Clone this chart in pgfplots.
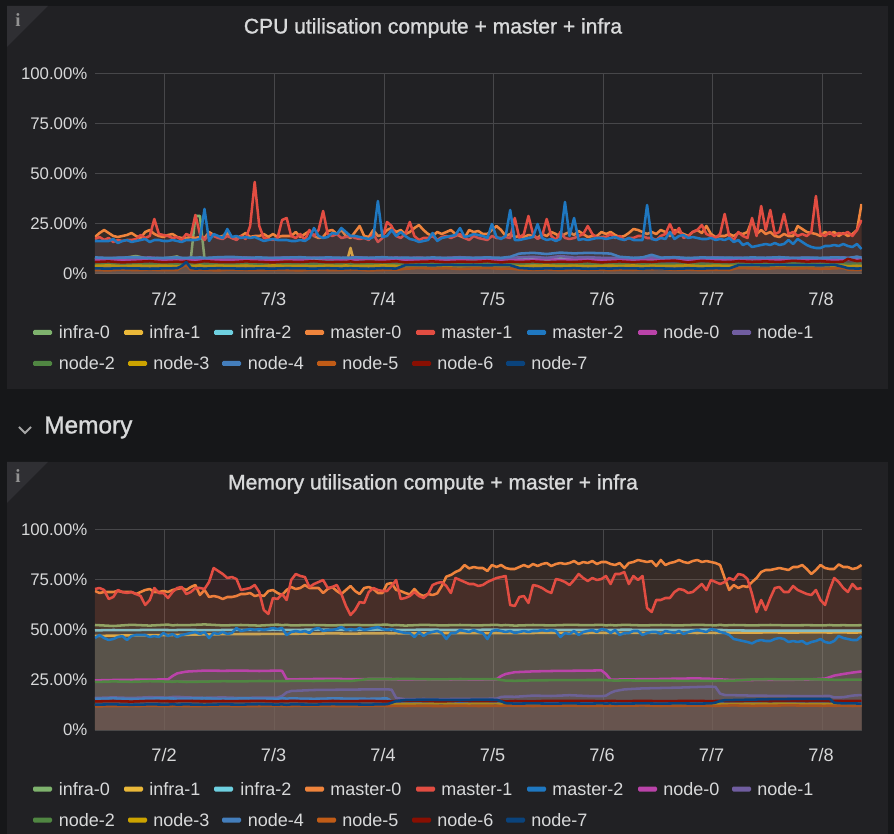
\documentclass[border=0pt]{standalone}
\usepackage{fontspec}
\usepackage{pgfplots}
\usepackage{pgfplotstable}
\pgfplotsset{compat=1.18}
\setmainfont{Liberation Sans}
\newfontfamily\titlefont[FakeBold=1.2]{Liberation Sans}
\newfontfamily\infofont{Liberation Serif}

\definecolor{page}{HTML}{161719}
\definecolor{panel}{HTML}{212124}
\definecolor{corner}{HTML}{2F2F33}
\definecolor{gridc}{HTML}{47474A}
\definecolor{txt}{HTML}{D8D9DA}
\definecolor{infra0}{HTML}{7EB26D}
\definecolor{infra1}{HTML}{EAB839}
\definecolor{infra2}{HTML}{6ED0E0}
\definecolor{master0}{HTML}{EF843C}
\definecolor{master1}{HTML}{E24D42}
\definecolor{master2}{HTML}{1F78C1}
\definecolor{node0}{HTML}{BA43A9}
\definecolor{node1}{HTML}{705DA0}
\definecolor{node2}{HTML}{508642}
\definecolor{node3}{HTML}{CCA300}
\definecolor{node4}{HTML}{447EBC}
\definecolor{node5}{HTML}{C15C17}
\definecolor{node6}{HTML}{890F02}
\definecolor{node7}{HTML}{0A437C}

% hours since the start of the window, value in percent
\pgfplotstableread{
h m0 m1 m2
0 18.5 17.5 16.5
1 20.5 18.5 16.5
2 22 17 16.5
3 20.5 18 16.5
4 19 16 17.5
5 18.5 17 15.5
6 19 16.5 16.5
7 19.5 17 17
8 20.5 17 16
9 19 17.5 16.5
10 18 19.5 17
11 21 18 17.5
12 22 19 16
13 20 27.5 17
14 19 20 17
15 18.5 19.5 16.5
16 19.5 19 16.5
17 20 18 17
18 18.5 18.5 16.5
19 18 17 16
20 18 20 17
21 18.5 19 17
22 18 29.5 17
23 18.5 20 17.5
24 18 17 32.5
25 21 20 16.5
26 19.5 19 20
27 18.5 18 19
28 19 17.5 18
29 20.5 19 22.5
30 18 18 18.5
31 18 17 19
32 19 19 18
33 20.5 17.5 18.5
34 18.5 24 18
35 19 46 18.5
36 19 24 17.5
37 20 18 16.5
38 18.5 17.5 17
39 20 17 17.5
40 18.5 18 17
41 19 27 17
42 19 28 17
43 19 19 16.5
44 21 18 16.5
45 18.5 20 17
46 20 17 16.5
47 21.5 22 18
48 19 19 23
49 18 22 19
50 18.5 31.5 18
51 21.5 20 18.5
52 22 19 20.5
53 20 20 20
54 22 18 23
55 19 18.5 21
56 18 19 19
57 21 18 19
58 24 17.5 18.5
59 19 18 18
60 18.5 17 17.5
61 22 20 18.5
62 19 16 36.5
63 19.5 18 18.5
64 22 26 19
65 23 24 22
66 21 19 19
67 22 18 21
68 20 20 19
69 21 26 17.5
70 23 19 17
71 24.5 17 16
72 22 18 16.5
73 20 18 17
74 19 19 20.5
75 21 17 16.5
76 20 18.5 18
77 21 19 18.5
78 22 18 19
79 20 19 19.5
80 19 20 23
81 18 18 18.5
82 22 17 19
83 21 19 20
84 21.5 18 19.5
85 20 17.5 19
86 20 17 18
87 22 19 25
88 24 18 18.5
89 22 18 17.5
90 19 18.5 19
91 20 18 32
92 18.5 28 17
93 19 18 17
94 18.5 20 17.5
95 19.5 29 18
96 19 20 18.5
97 18 17.5 25
98 20 19 18
99 19 27.5 17
100 21 19 17.5
101 20 17 16.5
102 18.5 21 17.5
103 20 18 36
104 21 17.5 19
105 19.5 18 28
106 21.5 19 17
107 20 20 17.5
108 18.5 24 17
109 19 20 17.5
110 19 18 18
111 21 18.5 18
112 20 18.5 17.5
113 21 20 18
114 19.5 18 18.5
115 18.5 19 17.5
116 19 17 17
117 20.5 18 18
118 22.5 18 17
119 22 19 17
120 21 19 17
121 20 18 34.5
122 21 18 17.5
123 20 17 17
124 22 19 18
125 21 20 17.5
126 19 25 21
127 22 20 17.5
128 21 23 19
129 20 18 19.5
130 19 19 18
131 21 21 18.5
132 22 22 18
133 20.5 24.5 17.5
134 24 20 17.5
135 20 19 18
136 18.5 18 17
137 19 20 17.5
138 19 30 17
139 20 19 18
140 19 17 16
141 20.5 21 17
142 20 19 14.5
143 21 18 15.5
144 27 28 13.5
145 20 19 14
146 22 34 14.5
147 20 22 15
148 21 32 14.5
149 19 20 15.5
150 18.5 21 14.5
151 20 30 15
152 19 20 17
153 19 21 15
154 24 19 17.5
155 22.5 20 16
156 21 19 14.5
157 20.5 21 13.5
158 20 39 13
159 19 20 13
160 21 19 14
161 20 21 14
162 21 19 14.5
163 19 20.5 14
164 20.5 20 15
165 19 21 14
166 20 19 13.5
167 22 22 15
168 35 27 12.5
}\cpumasters

\pgfplotstableread{
h i0 i1 i2 n0 n1 n2 n3 n4 n5 n6 n7
0 7.5 4.2 7.6 7.2 8.1 5.2 4.1 8.3 2.0 6.0 2.8
3 7.2 3.9 7.8 6.8 7.9 5.0 4.3 8.0 1.8 6.3 2.7
6 7.9 4.1 7.4 7.1 8.2 5.3 3.9 8.2 2.2 5.8 2.9
9 9.0 4.0 7.5 6.9 8.0 4.9 4.2 8.4 1.9 6.1 2.8
12 7.4 4.3 7.9 7.3 8.3 5.1 4.0 7.9 2.1 6.4 2.6
15 7.6 3.8 7.3 7.0 7.8 5.4 4.2 8.1 1.9 5.9 2.8
18 8.8 4.0 7.6 6.7 8.1 5.0 3.9 8.3 2.0 6.2 2.9
19 7.5 4.1 7.7 7.1 8.0 5.2 4.1 8.1 3.5 6.0 4.0
20 7.3 4.2 7.5 7.2 7.9 5.1 4.2 8.0 4.5 6.3 6.0
21 7.6 3.9 7.8 6.9 8.2 4.9 4.0 8.2 2.0 6.0 3.0
22 29 4.0 7.4 7.0 8.0 5.3 4.1 8.1 1.9 5.8 2.7
23 29 4.1 7.7 7.3 8.1 5.0 4.3 8.3 2.1 6.1 2.8
24 7.8 4.0 7.5 6.8 7.9 5.2 3.9 8.0 2.0 6.4 2.7
27 7.4 4.2 8.0 7.2 8.2 5.1 4.2 8.4 1.8 6.0 2.9
30 7.6 3.9 7.3 7.0 8.0 4.8 4.0 8.6 2.2 5.9 2.8
33 7.3 4.3 7.8 7.4 8.3 5.3 4.2 8.1 2.0 6.3 2.6
36 7.7 4.0 7.6 6.9 7.8 5.0 3.8 8.3 1.9 6.1 2.8
39 7.5 4.1 7.2 7.1 8.1 5.2 4.3 8.0 2.1 5.8 2.7
42 7.2 3.8 7.7 7.5 8.3 4.9 4.0 8.2 2.0 6.2 2.9
45 7.8 4.2 7.5 7.0 7.9 5.4 4.1 8.4 1.8 6.0 2.8
48 7.4 4.0 7.9 8.0 8.2 5.1 3.9 8.0 2.2 6.4 2.7
51 7.6 4.3 7.4 7.6 8.0 5.0 4.2 8.3 2.0 5.9 2.9
54 7.5 4.0 7.6 7.2 8.1 5.2 4.0 8.1 1.9 6.1 2.7
55 7.3 4.5 7.8 7.4 7.9 4.9 4.3 8.2 2.1 6.0 2.8
56 7.7 13 7.5 7.0 8.2 5.3 3.9 8.0 2.0 6.3 2.9
57 7.4 4.2 7.3 7.3 8.4 5.1 4.1 8.3 2.2 5.9 2.8
60 7.6 3.9 7.7 7.6 8.1 5.0 4.0 8.1 1.8 6.2 2.6
63 7.3 4.1 7.9 7.1 7.8 5.2 4.3 8.4 2.0 6.0 2.9
66 7.8 4.3 7.4 7.4 8.3 4.8 4.1 8.0 2.1 6.4 2.7
68 7.5 4.0 7.6 7.0 8.0 5.1 3.9 8.2 2.6 5.8 4.4
71 7.2 4.2 8.1 7.2 8.2 5.3 4.2 7.9 3.0 6.1 4.5
74 7.7 3.9 7.5 6.9 7.9 5.0 4.0 8.3 2.7 6.3 4.3
77 7.4 4.1 7.3 7.3 8.1 5.4 4.2 8.0 2.9 5.9 4.6
80 7.6 4.3 7.8 7.1 8.4 5.1 3.8 8.2 2.5 6.2 4.4
83 7.3 4.0 7.6 7.5 8.0 4.9 4.3 8.1 2.8 6.0 4.5
86 7.9 4.2 7.4 7.0 8.2 5.2 4.1 8.3 3.0 6.4 4.3
89 7.5 3.9 7.7 7.2 7.8 5.0 4.0 8.1 2.6 5.8 4.5
91 8.0 4.1 7.9 7.4 8.1 5.3 4.2 8.6 2.7 6.2 4.4
93 7.2 4.0 7.3 6.8 8.3 5.1 3.9 10.2 2.2 6.0 3.0
96 8.4 4.3 7.6 7.1 8.6 5.5 4.1 10.6 2.0 6.3 2.6
99 7.1 4.0 8.0 7.5 8.0 4.8 4.3 10.0 2.3 5.9 2.8
102 7.8 4.2 7.4 7.0 9.0 5.2 4.0 10.7 1.9 6.2 2.7
105 7.4 3.9 7.7 7.3 8.2 5.0 4.2 10.3 2.1 6.0 2.9
108 8.2 4.1 7.5 7.2 8.4 5.3 3.9 10.6 2.0 6.4 2.6
111 7.5 4.0 7.8 6.9 8.1 5.1 4.1 10.4 2.2 5.8 2.8
113 7.3 4.2 7.4 7.4 8.0 5.4 4.2 10.2 1.9 6.1 2.7
115 7.7 4.3 7.6 7.0 8.2 4.9 4.0 8.6 2.1 6.3 2.9
118 7.4 3.9 7.3 7.3 7.9 5.2 4.3 8.1 2.0 5.9 2.8
120 7.6 4.1 7.8 7.1 8.1 5.0 3.9 8.3 2.4 6.2 2.7
122 7.3 4.0 7.5 7.5 8.3 5.3 4.2 9.6 2.3 6.0 2.9
124 7.9 4.2 7.7 7.0 8.0 5.1 4.0 8.2 2.6 6.4 2.8
127 7.5 3.9 7.4 7.2 8.2 4.8 4.1 8.4 2.0 6.7 2.6
130 7.2 4.3 7.9 6.9 7.8 5.4 4.3 8.0 2.2 5.8 2.8
133 7.7 4.0 7.6 7.4 8.1 5.1 3.9 8.3 1.9 6.6 2.7
136 7.4 4.2 7.3 7.1 8.3 5.0 4.2 8.1 2.1 6.2 2.9
139 8.0 4.1 7.7 7.3 8.0 5.3 4.0 8.2 2.0 6.0 2.8
141 7.5 4.3 7.5 7.0 8.2 5.2 4.1 8.0 3.0 6.4 4.4
144 7.3 3.9 7.8 7.5 7.9 4.9 4.3 8.3 2.8 6.1 4.5
147 7.6 4.1 7.4 7.2 8.1 5.2 4.0 8.1 2.6 6.3 4.3
150 7.4 4.0 7.6 6.9 8.4 5.0 4.2 8.4 3.0 6.0 4.6
153 7.7 4.2 7.9 7.3 8.0 5.3 3.9 8.0 2.7 6.6 4.4
156 7.3 4.3 7.5 7.1 8.2 5.1 4.1 8.2 2.9 6.2 4.5
159 7.5 3.9 7.3 7.4 7.8 4.9 4.3 8.1 2.6 6.4 4.3
162 7.8 4.1 7.7 7.0 8.1 5.2 4.0 8.3 2.8 6.0 4.6
164 7.4 4.2 7.6 7.2 8.3 5.4 4.2 8.2 3.0 6.2 3.6
165 7.6 4.0 7.4 7.3 8.0 5.0 3.9 8.0 2.2 7.6 2.9
167 8.6 4.3 7.8 7.1 8.5 5.3 4.1 8.6 2.0 6.4 2.7
168 7.4 4.1 7.5 7.3 8.2 5.1 4.0 8.3 2.1 6.8 2.8
}\cpunodes

\pgfplotstableread{
h m0 m1 m2
0 69.5 70.5 46
1 68.5 71 47.5
2 69 70 46
3 69 65.5 45
4 69 66.5 45.5
5 69.5 70 46.5
6 69 69 47
7 69 68.5 45
8 69 69 47
9 68 68 47.5
10 69 67 47.5
11 70 62.5 47.5
12 70.5 65 46.5
13 69 71 47
14 69 68.5 46.5
15 69.5 68.5 48.5
16 69 66 47
17 70 69 48
18 70.5 71 46.5
19 71 71.5 47.5
20 70 68 48
21 71.5 69 48.5
22 72.5 71 49
23 67.5 71 48
24 70 70.5 49
25 66.5 74 46
26 67 81 48.5
27 66.5 79.5 48
28 65.5 78 49
29 66.5 76 48
30 66.5 76.5 48.5
31 67 75.5 51
32 68 70 49.5
33 68 70.5 50
34 68.5 71 50.5
35 67 72.5 50
36 67.5 69 50.5
37 67 60 50
38 69.5 58 50.5
39 70 66 51
40 68.5 65.5 50.5
41 67.5 68 51
42 70 65 47.5
43 71.5 75 49
44 70.5 78 49.5
45 71 77 49
46 72.5 76.5 49.5
47 71 71.5 48.5
48 71 73 50.5
49 71 74 51
50 68.5 75 49.5
51 70.5 71 50
52 71.5 71.5 50
53 69.5 72.5 50.5
54 68 68 51.5
55 70 62 50
56 72 57.5 50.5
57 69.5 60 50
58 68 64 51
59 71 63.5 50
60 71.5 69 50.5
61 70.5 71 51
62 68.5 70 51.5
63 68.5 69.5 50.5
64 73 69.5 50
65 73.5 72 50.5
66 70 75 49.5
67 69.5 65.5 49
68 68.5 66 48.5
69 67.8 67 48.5
70 70.5 69 46.5
71 68 67 49
72 67 66 47
73 68 68 48.5
74 67.5 72.5 49
75 68.3 73.5 49.5
76 72 74 48.5
77 76.7 72 45.5
78 77.5 68.5 48.5
79 79 76 48.5
80 80 75 50
81 82.5 74 49.5
82 80.8 73 49
83 81.5 73 50
84 81 72 49
85 81 72.5 48.5
86 79.5 74 45.5
87 82.5 75 49.5
88 81.5 76 50
89 82.5 76.5 49.5
90 81 77 49
91 80.5 62.5 49.5
92 80.5 62 48.5
93 81.5 66.5 49
94 82.5 67 49.5
95 81.5 63.5 49
96 83 72.5 49.5
97 82 72 49.5
98 83 71 50
99 83.5 69.5 49.5
100 82 68.5 50
101 83 75.5 49.5
102 83.5 75 46.5
103 83 74 48.5
104 83.5 72.5 48
105 84.5 75 49.5
106 83 78 47.5
107 84 76 49
108 83.5 74.5 49.5
109 84.5 76 50
110 83 75 49
111 84 75.5 50.5
112 84 77 50
113 83 73 48.5
114 82.5 78 50
115 83.5 78 47.5
116 81 79 48.5
117 83.5 73 48.5
118 84 77 49.5
119 85 75 49.5
120 84.5 77 47.5
121 84 61 48.5
122 84.5 59 49
123 82 65 49
124 85 65 48
125 82.5 66 49.5
126 83.5 66 49
127 84 69 48.5
128 85 70.5 49.5
129 84 70 48
130 83.5 68.5 49
131 84.5 69 49.5
132 85 71 50
133 84 73 49.5
134 84.5 70 49
135 84 75 50.5
136 83.5 74 50
137 82.5 73 49
138 76 74 48.5
139 70 76 47.5
140 72.5 75 45.5
141 71 78 45
142 72 77.5 44.5
143 71.5 75.5 44
144 74 68 43.3
145 76 59 44.5
146 79 65 45
147 80 60 44.5
148 80 66 44.5
149 80.5 71 45.5
150 81 71.5 46
151 80.5 69 45.5
152 80 69 44
153 81.5 72 44.5
154 81.5 70 44
155 82.5 69 44.5
156 80.5 68 43
157 78 67.5 44
158 80 70 44.5
159 82.5 65 45.5
160 81 62.5 44
161 80.5 70 43.5
162 80.5 76 44.5
163 82.8 74 47
164 81.5 71 46
165 81.5 69 45.5
166 80.5 73 45
167 81 70.5 45
168 82.5 71 47
}\memmasters

\pgfplotstableread{
h i0 i1 i2 n0 n1 n2 n3 n4 n5 n6 n7
0 52.5 47.0 49.8 24.8 16.0 24.0 12.4 15.6 11.8 14.3 12.7
4 52.0 47.2 50.0 25.0 16.3 24.3 12.5 15.8 12.0 14.5 12.8
8 52.6 47.3 49.9 25.1 16.0 24.1 12.3 15.5 11.9 14.2 12.6
12 52.2 47.4 50.1 25.2 16.4 24.4 12.5 15.7 12.1 14.6 12.8
16 52.7 47.5 50.0 25.3 16.2 24.2 12.4 15.9 11.9 14.4 12.7
17 52.3 47.5 49.9 27.0 16.5 24.1 12.6 15.8 12.0 14.3 12.9
18 52.5 47.6 50.0 28.3 16.6 24.3 12.5 15.6 12.1 14.5 12.7
20 52.4 47.6 50.1 29.2 16.3 24.0 12.4 15.7 11.9 14.6 12.8
24 52.8 47.8 49.9 29.7 16.1 24.2 12.5 15.9 12.0 14.3 12.6
28 52.3 47.9 50.0 29.6 16.3 24.4 12.3 15.5 12.1 14.5 12.8
32 52.5 48.0 50.1 29.7 16.0 24.3 12.6 15.8 11.9 14.4 12.7
36 52.2 48.0 50.0 29.5 16.2 24.5 12.5 15.7 12.0 14.6 12.9
40 52.7 48.1 50.2 29.7 16.2 24.4 12.4 15.6 12.1 14.3 12.7
41 52.4 48.1 50.0 29.6 17.0 24.5 12.5 15.9 12.0 14.5 12.8
42 52.6 48.0 50.1 25.4 18.8 24.4 12.6 15.7 11.9 14.4 12.6
43 52.3 48.1 50.0 25.3 19.5 24.6 12.4 15.8 12.0 14.6 12.8
48 52.5 48.2 50.2 25.5 20.0 24.5 12.5 15.6 12.1 14.3 12.7
52 52.3 48.3 50.1 25.6 20.1 24.7 12.6 15.8 12.0 14.5 12.9
56 52.6 48.2 50.0 25.4 20.2 24.5 12.5 15.7 11.9 14.4 12.8
60 52.4 48.3 50.1 25.5 20.3 25.5 12.4 15.6 12.1 14.6 12.7
64 52.7 48.4 50.2 25.6 20.3 25.6 12.6 15.8 12.0 14.3 12.9
65 52.3 48.3 50.0 25.5 20.2 25.4 12.8 14.5 12.0 14.5 13.6
66 52.5 48.4 50.1 25.4 16.0 25.5 13.0 14.2 12.1 14.4 14.5
68 52.2 48.3 50.0 25.3 15.4 25.6 13.2 14.4 12.0 14.6 15.0
72 52.6 48.4 50.2 25.3 15.5 25.4 13.3 14.3 12.1 14.5 15.2
76 52.3 48.5 50.1 25.2 15.4 25.3 13.4 14.6 11.9 14.3 15.1
80 52.5 48.5 50.0 25.3 15.6 25.5 13.2 14.2 12.2 14.6 15.0
84 52.3 48.4 50.1 25.2 15.5 25.4 13.3 14.5 12.0 14.4 15.2
88 52.6 48.5 50.2 25.4 15.7 25.5 13.4 14.3 12.1 14.5 15.1
89 52.3 48.4 50.0 27.0 16.5 25.0 13.1 14.4 12.1 14.6 14.4
90 52.5 48.5 50.1 28.0 16.7 24.7 13.0 14.2 12.2 14.3 13.4
92 52.2 48.4 50.0 28.9 16.6 24.6 13.0 14.3 12.1 14.5 13.2
96 52.5 48.5 50.1 29.3 17.2 24.8 12.8 14.4 12.0 14.4 13.3
100 52.3 48.6 50.0 29.5 17.0 24.9 12.9 14.2 12.1 14.6 13.2
104 52.6 48.5 50.1 29.6 17.4 24.9 13.0 14.3 12.2 14.5 13.3
108 52.4 48.5 50.0 29.7 17.0 25.0 12.9 14.1 12.0 14.6 13.2
111 52.6 48.6 50.1 29.8 16.9 25.0 12.8 14.3 12.1 14.4 13.3
112 52.3 48.5 50.0 28.0 17.2 24.9 12.9 14.2 12.1 14.5 13.2
113 52.5 48.6 50.1 25.2 18.6 24.8 13.0 14.4 12.0 14.6 13.3
114 52.3 48.5 50.0 25.2 19.5 24.7 12.8 14.2 12.2 14.5 13.1
116 52.6 48.5 50.2 25.3 20.3 24.8 12.9 14.3 12.1 14.4 13.2
120 52.3 48.6 50.0 25.4 20.8 24.7 12.9 14.1 12.3 14.6 13.3
124 52.5 48.5 50.1 25.5 21.0 24.7 13.0 14.3 12.0 14.4 13.2
128 52.3 48.6 50.0 25.7 21.2 24.6 12.8 14.2 12.1 14.5 13.3
132 52.6 48.5 50.1 25.8 21.5 24.6 12.9 14.4 12.2 14.6 13.2
135 52.4 48.6 50.2 25.6 21.7 24.5 12.9 14.2 12.1 14.4 13.3
136 52.3 48.5 50.0 25.4 21.5 24.6 13.0 14.3 12.0 14.5 13.7
137 52.6 48.6 50.1 25.3 18.2 24.7 13.1 14.4 12.1 14.6 14.5
138 52.3 48.6 49.9 25.2 17.5 24.6 13.0 14.3 12.2 14.5 14.9
140 52.5 48.7 49.8 25.0 17.4 24.7 13.2 14.5 12.3 14.4 15.0
144 52.3 48.7 49.7 25.0 17.2 25.3 13.2 14.4 12.1 14.6 15.2
148 52.5 48.8 49.7 25.1 17.1 25.4 13.1 14.6 12.2 14.5 15.4
152 52.3 48.7 49.7 25.1 17.0 25.3 13.2 14.5 12.3 14.6 15.5
156 52.4 48.8 49.7 25.2 16.9 25.4 13.0 14.4 12.2 14.5 15.6
160 52.3 48.8 49.7 25.7 17.0 25.3 13.1 14.5 12.1 14.6 15.6
161 52.5 48.7 49.7 26.4 17.0 25.2 13.0 14.6 12.2 14.5 15.6
162 52.3 48.8 49.7 27.2 16.3 25.1 12.9 14.4 12.1 14.6 13.6
164 52.4 48.8 49.7 28.0 16.4 25.1 13.0 14.5 12.2 14.5 13.3
166 52.3 48.7 49.7 28.7 17.2 25.2 12.9 14.4 12.0 14.6 13.3
168 52.4 48.8 49.7 29.3 17.5 25.2 13.0 14.5 12.1 14.6 13.2
}\memnodes

% translucent area under a series, then its line
\newcommand{\series}[3]{%
  \addplot[draw=none, fill=#1, fill opacity=0.1, forget plot] table[x=h, y=#3] {#2} \closedcycle;
  \addplot[#1, line width=1.9pt, line join=round, forget plot] table[x=h, y=#3] {#2};
}

\pgfplotsset{
  panelaxis/.style={
    scale only axis,
    width=575.25pt, height=150pt,
    anchor=south west,
    xmin=0, xmax=168.1,
    ymin=0, ymax=100,
    xtick={15.34,39.34,63.34,87.34,111.34,135.34,159.34},
    xticklabels={7/2,7/3,7/4,7/5,7/6,7/7,7/8},
    ytick={0,25,50,75,100},
    yticklabels={0\%,25.00\%,50.00\%,75.00\%,100.00\%},
    grid=major,
    grid style={gridc, line width=0.75pt},
    major tick length=0pt,
    axis line style={draw=none},
    tick label style={txt, font=\fontsize{12.6}{15}\selectfont},
    xticklabel style={yshift=-10pt, xshift=-0.7pt, font=\fontsize{13.6}{16}\selectfont},
    yticklabel style={xshift=-2.2pt},
  },
}

% legend swatch and name, x of swatch and of text, y in reference pixels
\newcommand{\legitem}[5]{%
  \fill[#4, rounded corners=1pt] (#1,#3-2.5) rectangle (#1+19,#3+2.5);
  \node[anchor=west, inner sep=0pt, txt, font=\fontsize{13.5}{16}\selectfont] at (#2,#3) {#5};
}
\newcommand{\legendrows}[2]{%
  \legitem{33}{58.5}{#1}{infra0}{infra-0}
  \legitem{124}{149}{#1}{infra1}{infra-1}
  \legitem{214}{240}{#1}{infra2}{infra-2}
  \legitem{305}{330}{#1}{master0}{master-0}
  \legitem{416}{441}{#1}{master1}{master-1}
  \legitem{527}{552}{#1}{master2}{master-2}
  \legitem{638}{663}{#1}{node0}{node-0}
  \legitem{732}{757}{#1}{node1}{node-1}
  \legitem{33}{58.5}{#2}{node2}{node-2}
  \legitem{128}{153}{#2}{node3}{node-3}
  \legitem{222}{247.5}{#2}{node4}{node-4}
  \legitem{317}{342}{#2}{node5}{node-5}
  \legitem{412}{437}{#2}{node6}{node-6}
  \legitem{506}{531}{#2}{node7}{node-7}
}
\newcommand{\infocorner}[1]{%
  \fill[corner] (7,#1) -- (48,#1) -- (7,#1+41) -- cycle;
  \node[text=gray!85, font=\infofont\bfseries\fontsize{14}{14}\selectfont, inner sep=0pt] at (18,#1+14) {i};
}
\newcommand{\allseries}[2]{%
  \series{infra0}{#2}{i0}
  \series{infra1}{#2}{i1}
  \series{infra2}{#2}{i2}
  \series{master0}{#1}{m0}
  \series{master1}{#1}{m1}
  \series{master2}{#1}{m2}
  \series{node0}{#2}{n0}
  \series{node1}{#2}{n1}
  \series{node2}{#2}{n2}
  \series{node3}{#2}{n3}
  \series{node4}{#2}{n4}
  \series{node5}{#2}{n5}
  \series{node6}{#2}{n6}
  \series{node7}{#2}{n7}
}

\begin{document}
\begin{tikzpicture}
\begin{scope}[x=0.75pt, y=-0.75pt]
  \fill[page] (0,0) rectangle (894,834);
  \fill[panel] (7,6) rectangle (888,389);
  \fill[panel] (7,462) rectangle (888,834);
  \infocorner{6}
  \infocorner{462}
  \node[txt, font=\titlefont\fontsize{15.8}{19}\selectfont, inner sep=0pt] at (433,28) {CPU utilisation compute + master + infra};
  \node[txt, font=\titlefont\fontsize{15.8}{19}\selectfont, inner sep=0pt] at (433,484) {Memory utilisation compute + master + infra};
  \node[txt, anchor=west, font=\titlefont\fontsize{18.3}{22}\selectfont, inner sep=0pt] at (44,427.5) {Memory};
  \draw[gray!70, line width=1.5pt] (19,427) -- (25,433) -- (31,427);
  \legendrows{332.5}{363.5}
  \legendrows{789}{820}
\end{scope}

\begin{axis}[panelaxis, at={(71.25pt,-205.5pt)}]
  \allseries{\cpumasters}{\cpunodes}
\end{axis}

\begin{axis}[panelaxis, at={(71.25pt,-547.5pt)}]
  \allseries{\memmasters}{\memnodes}
\end{axis}
\end{tikzpicture}
\end{document}
